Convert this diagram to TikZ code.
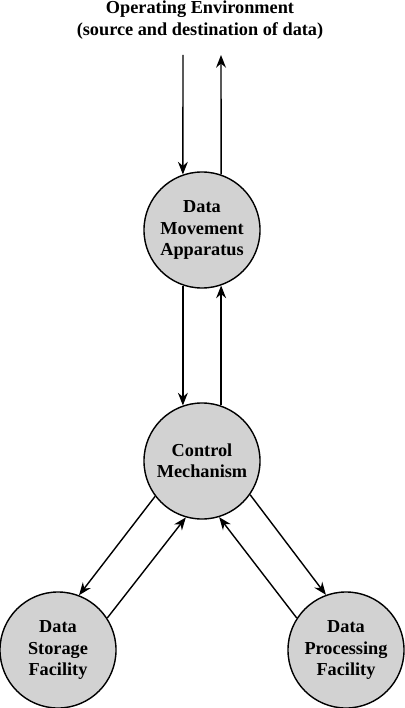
\documentclass[tikz,border=0pt]{standalone}
\usepackage{fontspec}
\setmainfont{Liberation Serif}
\usetikzlibrary{arrows.meta}

\begin{document}
\begin{tikzpicture}[x=0.025cm, y=-0.025cm,
		unit/.style={draw, circle, line width=1pt, fill=gray!35, minimum size=2.9cm, inner sep=0pt, align=center, font=\bfseries\fontsize{13}{15}\selectfont},
		flow/.style={-{Stealth[length=9pt, width=7pt]}, line width=1pt}]
	\useasboundingbox (0,0) rectangle (404,708);
	
	\node (env) [align=center, font=\bfseries\fontsize{13}{15.6}\selectfont] at (200,20) {Operating Environment\\(source and destination of data)};
	\coordinate (top1) at (183,55);
	\coordinate (top2) at (221,55);
	
	\node (circ1) [unit] at (202,230) {Data\\Movement\\Apparatus};
	\node (circ2) [unit] at (202,461) {Control\\Mechanism};
	\node (circ3) [unit] at (58,650) {Data\\Storage\\Facility};
	\node (circ4) [unit] at (346,650) {Data\\Processing\\Facility};
	
	% Arrows
	\draw[flow] (top1) -- (circ1.109);
	\draw[flow] (circ1.71) -- (top2);
	\draw[flow] (circ1.251) -- (circ2.109);
	\draw[flow] (circ2.71) -- (circ1.289);
	\draw[flow] (circ2.217) -- (circ3.69);
	\draw[flow] (circ3.33) -- (circ2.254);
	\draw[flow] (circ2.325) -- (circ4.110);
	\draw[flow] (circ4.147) -- (circ2.287);
	
\end{tikzpicture}
\end{document}
